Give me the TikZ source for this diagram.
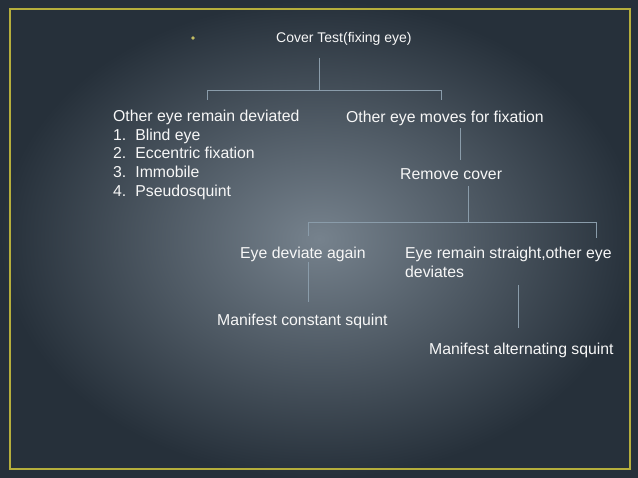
\documentclass[tikz,border=0pt]{standalone}
\usepackage{fontspec}
\setmainfont{Liberation Sans}
\begin{document}
\begin{tikzpicture}[x=1pt,y=-1pt,
  txt/.style={text=white!94!gray,anchor=base west,inner sep=0pt,font=\fontsize{15.8}{19}\selectfont},
  small/.style={txt,font=\fontsize{14}{16}\selectfont},
  conn/.style={draw=lineblue,line width=0.8pt}]
\definecolor{lineblue}{HTML}{8A9CAA}
\definecolor{frame}{HTML}{B5AE3C}
\useasboundingbox (0,0) rectangle (638,478);
\shade[inner color={rgb,255:red,118;green,130;blue,141}, outer color={rgb,255:red,38;green,48;blue,58}] (0,0) rectangle (638,478);
\draw[frame,line width=1.1pt] (10,9) rectangle (630,469);
\fill[frame!80!white] (193,38) circle (1.8);
\node[small] (t) at (276,43) {Cover Test(fixing eye)};
\node[txt] (a) at (113,122) {Other eye remain deviated};
\node[txt] (a1) at (113,141) {1.\hspace{9pt}Blind eye};
\node[txt] (a2) at (113,159) {2.\hspace{9pt}Eccentric fixation};
\node[txt] (a3) at (113,178) {3.\hspace{9pt}Immobile};
\node[txt] (a4) at (113,197) {4.\hspace{9pt}Pseudosquint};
\node[txt] (b) at (346,123) {Other eye moves for fixation};
\node[txt] (c) at (400,180) {Remove cover};
\node[txt] (d) at (240,259) {Eye deviate again};
\node[txt] (e) at (405,259) {Eye remain straight,other eye};
\node[txt] (e2) at (405,278) {deviates};
\node[txt] (f) at (217,326) {Manifest constant squint};
\node[txt] (g) at (429,355) {Manifest alternating squint};
\coordinate (tb) at (319,58);
\coordinate (h1) at (319,90);
\coordinate (l1) at (207,90);
\coordinate (r1) at (441,90);
\path[conn] (tb) -- (h1) (l1) -- ++(0,10) (l1) -- (r1) -- ++(0,10);
\path[conn] (460,128) -- (460,160);
\path[conn] (468,186) -- (468,222) (308,222) -- (596,222) -- (596,238);
\path[conn] (308,222) -- (308,236) (308,262) -- (308,302);
\path[conn] (518,285) -- (518,328);
\end{tikzpicture}
\end{document}
